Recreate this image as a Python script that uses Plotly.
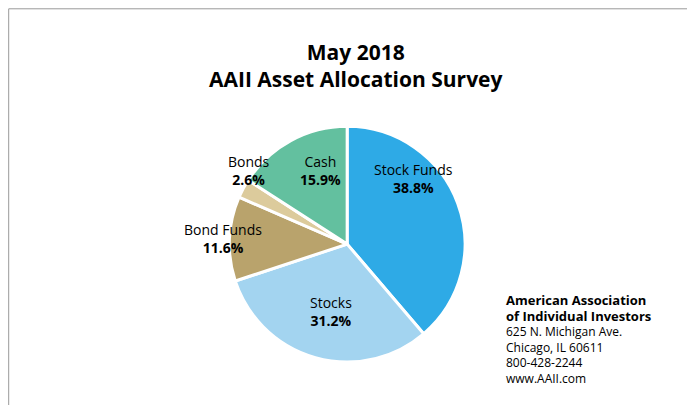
import plotly.graph_objects as go

labels = ["Stock Funds", "Stocks", "Bond Funds", "Bonds", "Cash"]
values = [38.8, 31.2, 11.6, 2.6, 15.9]
colors = ["#2eaae6", "#a3d4f0", "#b9a36c", "#dccb9c", "#63c09f"]

# label positions (paper coords)
label_pos = [(0.583, 0.58), (0.465, 0.20), (0.25, 0.43), (0.313, 0.60), (0.45, 0.60)]

fig = go.Figure()
fig.add_trace(go.Pie(
    labels=labels, values=values, sort=False, direction="clockwise", rotation=0,
    marker=dict(colors=colors, line=dict(color="white", width=3)),
    textinfo="none", hoverinfo="label+percent", showlegend=False,
    domain=dict(x=[0.318, 0.658], y=[0.126, 0.708]),
))

for lab, val, (x, y) in zip(labels, values, label_pos):
    fig.add_annotation(x=x, y=y, xref="paper", yref="paper", showarrow=False,
                       text=f"{lab}<br><b>{val}%</b>",
                       font=dict(family="Open Sans", size=14, color="black"))

fig.add_annotation(x=0.5, y=0.93, xref="paper", yref="paper", showarrow=False,
                   text="<b>May 2018<br>AAII Asset Allocation Survey</b>",
                   font=dict(family="Open Sans", size=21, color="black"))

fig.add_annotation(x=0.713, y=0.06, xref="paper", yref="paper", showarrow=False,
                   xanchor="left", yanchor="bottom", align="left",
                   text="<b><span style='font-size:13px'>American Association<br>of Individual Investors</span></b><br>"
                        "625 N. Michigan Ave.<br>Chicago, IL 60611<br>800-428-2244<br>www.AAII.com",
                   font=dict(family="Open Sans", size=12, color="black"))

fig.add_shape(type="rect", xref="paper", yref="paper", x0=0.001, y0=0.002, x1=0.998, y1=0.998,
              line=dict(color="#999999", width=1))

fig.update_layout(width=695, height=405, margin=dict(l=0, r=0, t=0, b=0),
                  paper_bgcolor="white", plot_bgcolor="white")
fig.write_html("out.html")
